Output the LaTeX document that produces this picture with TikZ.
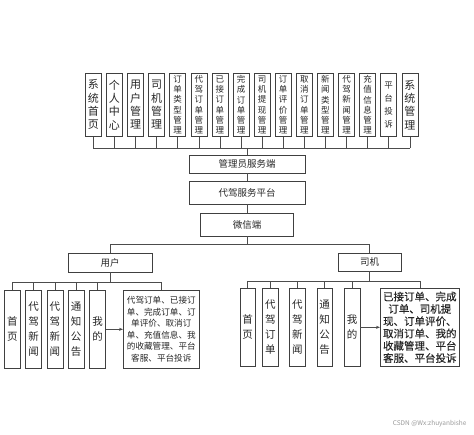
\documentclass[tikz,border=0pt]{standalone}
\usepackage{fontspec}
\setmainfont{Noto Sans CJK SC}
\newfontfamily\semibold[FakeBold=0.35]{Noto Sans CJK SC}
\usetikzlibrary{arrows.meta}
\tikzset{
  box/.style={draw=black!75, line width=0.6pt, inner sep=0pt, align=center, text=black!85},
  conn/.style={draw=black!70, line width=0.6pt},
  arr/.style={conn, -{Stealth[length=4pt,width=3pt]}},
  topbox/.style={box, minimum width=16pt, minimum height=63pt, anchor=north west},
  tbig/.style={font=\fontsize{11}{13.3}\selectfont},
  tsmall/.style={font=\fontsize{8.5}{10.3}\selectfont},
  tspaced/.style={font=\fontsize{8.5}{13}\selectfont},
  midbox/.style={box, font=\fontsize{9.5}{11}\selectfont},
  childbox/.style={box, minimum width=16pt, anchor=north west, font=\fontsize{10.5}{15}\selectfont},
}
\begin{document}
\begin{tikzpicture}[x=1pt,y=-1pt]
\useasboundingbox (0,0) rectangle (474,434);
% top row
\foreach \lab/\st [count=\i] in {
  {系\\统\\首\\页}/tbig, {个\\人\\中\\心}/tbig, {用\\户\\管\\理}/tbig, {司\\机\\管\\理}/tbig,
  {订\\单\\类\\型\\管\\理}/tsmall, {代\\驾\\订\\单\\管\\理}/tsmall, {已\\接\\订\\单\\管\\理}/tsmall,
  {完\\成\\订\\单\\管\\理}/tsmall, {司\\机\\提\\现\\管\\理}/tsmall, {订\\单\\评\\价\\管\\理}/tsmall,
  {取\\消\\订\\单\\管\\理}/tsmall, {新\\闻\\类\\型\\管\\理}/tsmall, {代\\驾\\新\\闻\\管\\理}/tsmall,
  {充\\值\\信\\息\\管\\理}/tsmall, {平\\台\\投\\诉}/tspaced, {系\\统\\管\\理}/tbig}
{
  \node[topbox, \st] (t\i) at ({85+21.1*(\i-1)}, 73) {\lab};
}
\coordinate (busy) at (0,148);
\foreach \i in {1,...,16} { \draw[conn] (t\i.south) -- (t\i.south |- busy); }
\draw[conn] (t1.south |- busy) -- (t16.south |- busy);

% middle
\node[midbox, minimum width=116pt, minimum height=18pt] (adm) at (247,164) {管理员服务端};
\node[midbox, minimum width=116pt, minimum height=23pt] (plat) at (247,192.5) {代驾服务平台};
\node[midbox, minimum width=93pt, minimum height=23pt] (wx) at (247,224.5) {微信端};
\draw[conn] (adm.north |- busy) -- (adm.north);
\draw[conn] (adm.south) -- (plat.north);
\draw[conn] (plat.south) -- (wx.north);

\node[midbox, minimum width=84pt, minimum height=19pt] (user) at (110,262.5) {用户};
\node[midbox, minimum width=63pt, minimum height=18pt] (drv) at (369.5,262) {司机};
\coordinate (splity) at (0,244);
\draw[conn] (wx.south) -- (wx.south |- splity);
\draw[conn] (user.north) -- (user.north |- splity) -- (drv.north |- splity) -- (drv.north);

% user children
\node[childbox, minimum height=78pt] (u1) at (4,290) {首\\页};
\node[childbox, minimum height=78pt] (u2) at (25.3,290) {代\\驾\\新\\闻};
\node[childbox, minimum height=78pt] (u3) at (46.6,290) {代\\驾\\新\\闻};
\node[childbox, minimum height=78pt] (u4) at (67.9,290) {通\\知\\公\\告};
\node[childbox, minimum height=78pt] (u5) at (89.2,290) {我\\的};
\node[box, minimum width=76pt, minimum height=78pt, anchor=north west,
      font=\fontsize{8.6}{11.6}\selectfont] (u6) at (123,290)
  {代驾订单、已接订\\单、完成订单、订\\单评价、取消订\\单、充值信息、我\\的收藏管理、平台\\客服、平台投诉};
\coordinate (ubus) at (0,282);
\draw[conn] (user.south) -- (user.south |- ubus);
\draw[conn] (u1.north |- ubus) -- (u6.north |- ubus);
\foreach \n in {u1,u2,u3,u4,u5,u6} { \draw[conn] (\n.north |- ubus) -- (\n.north); }
\draw[arr] (u5.east) -- (u6.west |- u5.east);

% driver children
\node[childbox, minimum height=78pt, minimum width=15.5pt] (d1) at (239.5,288) {首\\页};
\node[childbox, minimum height=78pt, minimum width=15.5pt] (d2) at (262.3,288) {代\\驾\\订\\单};
\node[childbox, minimum height=78pt, minimum width=15.5pt] (d3) at (289.3,288) {代\\驾\\新\\闻};
\node[childbox, minimum height=78pt, minimum width=15.5pt] (d4) at (316.5,288) {通\\知\\公\\告};
\node[childbox, minimum height=78pt, minimum width=15.5pt] (d5) at (344,288) {我\\的};
\node[box, minimum width=79pt, minimum height=78pt, anchor=north west,
      font=\fontsize{10.5}{12.3}\semibold] (d6) at (380,288)
  {已接订单、完成\\订单、司机提\\现、订单评价、\\取消订单、我的\\收藏管理、平台\\客服、平台投诉};
\coordinate (dbus) at (0,281);
\draw[conn] (drv.south) -- (drv.south |- dbus);
\draw[conn] (d1.north |- dbus) -- (d6.north |- dbus);
\foreach \n in {d1,d2,d3,d4,d5,d6} { \draw[conn] (\n.north |- dbus) -- (\n.north); }
\draw[arr] (d5.east) -- (d6.west |- d5.east);

% watermark
\node[text=black!40, font=\fontsize{6.5}{8}\selectfont, anchor=east] (wm) at (470,424) {CSDN @Wx:zhuyanbishe};
\end{tikzpicture}
\end{document}
